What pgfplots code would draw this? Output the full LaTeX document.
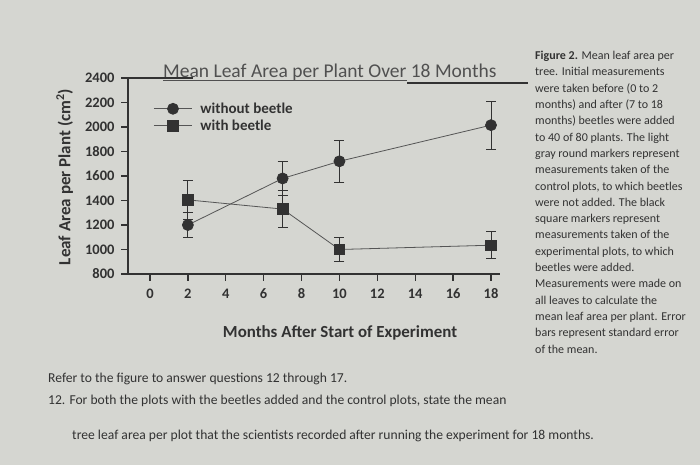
\documentclass[border=0pt]{standalone}
\usepackage{pgfplots}
\pgfplotsset{compat=1.18}
\usepackage{fontspec}
\setmainfont{Carlito}
\definecolor{bg}{RGB}{213,214,209}
\definecolor{ink}{RGB}{50,50,50}
\definecolor{lin}{RGB}{85,85,85}
\definecolor{titlecol}{RGB}{80,80,80}
\begin{document}
\begin{tikzpicture}[x=1pt,y=1pt]
\fill[bg] (0,0) rectangle (700,465);
\begin{axis}[
  at={(128pt,191pt)}, anchor=south west,
  scale only axis, width=372pt, height=196pt,
  xmin=-1.16, xmax=18.475, ymin=800, ymax=2400,
  axis x line=bottom, axis y line=left,
  axis line style={-, line width=1.6pt, ink},
  xtick={0,2,...,18}, ytick={800,1000,...,2400},
  tick align=outside, major tick length=7pt,
  tick style={line width=1.4pt, ink},
  /pgf/number format/assume math mode=true,
  /pgf/number format/1000 sep={},
  ticklabel style={font=\bfseries\fontsize{14.5}{16}\selectfont, text=ink},
  xticklabel style={yshift=-4pt, text height=10pt, text depth=0pt},
  yticklabel style={xshift=-3pt},
  xlabel={Months After Start of Experiment},
  xlabel style={at={(axis description cs:0.57,-0.30)}, anchor=center, font=\bfseries\fontsize{16.9}{19}\selectfont, text=ink},
  ylabel={Leaf Area per Plant (cm\textsuperscript{2})},
  ylabel style={at={(axis description cs:-0.17,0.495)}, anchor=center, font=\bfseries\fontsize{17}{19}\selectfont, text=ink},
  legend image code/.code={\draw[mark repeat=2,mark phase=2,#1] plot coordinates {(0cm,0cm) (0.67cm,0cm) (1.34cm,0cm)}; \path (1.34cm+6pt,0);},
  legend style={at={(0.06,0.895)}, anchor=north west, draw=none, fill=none, font=\bfseries\fontsize{15}{16}\selectfont, text=ink, row sep=1pt},
  legend cell align=left,
  clip=false,
]
\addplot[lin, line width=0.8pt, mark=*, mark size=5.5pt, mark options={fill=ink, draw=ink, solid},
  error bars/.cd, y dir=both, y explicit,
  error bar style={line width=0.9pt, ink},
  error mark options={rotate=90, mark size=5pt, line width=0.9pt, ink}]
  coordinates {(2,1200) +- (0,100) (7,1580) +- (0,140) (10,1720) +- (0,170) (18,2015) +- (0,195)};
\addplot[lin, line width=0.8pt, mark=square*, mark size=5.3pt, mark options={fill=ink, draw=ink, solid},
  error bars/.cd, y dir=both, y explicit,
  error bar style={line width=0.9pt, ink},
  error mark options={rotate=90, mark size=5pt, line width=0.9pt, ink}]
  coordinates {(2,1405) +- (0,160) (7,1330) +- (0,150) (10,1000) +- (0,100) (18,1035) +- (0,110)};
\legend{without beetle, with beetle}
\end{axis}
% title with underline
\node[anchor=base west, font=\fontsize{19.5}{21}\selectfont, text=titlecol, inner sep=0pt] at (163,387) {Mean Leaf Area per Plant Over 18 Months};
\draw[ink, line width=1.4pt] (122,387) -- (193,387);
\draw[titlecol, line width=0.7pt] (163,384.5) -- (407,384.5);
\draw[ink, line width=1.3pt] (407,382) -- (528,382);
% caption
\node[anchor=north west, align=left, inner sep=0pt, font=\fontsize{12}{16.3}\selectfont, text=ink] at (535,414) {%
\textbf{Figure 2.} Mean leaf area per\\
tree. Initial measurements\\
were taken before (0 to 2\\
months) and after (7 to 18\\
months) beetles were added\\
to 40 of 80 plants. The light\\
gray round markers represent\\
measurements taken of the\\
control plots, to which beetles\\
were not added. The black\\
square markers represent\\
measurements taken of the\\
experimental plots, to which\\
beetles were added.\\
Measurements were made on\\
all leaves to calculate the\\
mean leaf area per plant. Error\\
bars represent standard error\\
of the mean.};
% questions
\node[anchor=base west, inner sep=0pt, font=\fontsize{13.6}{15}\selectfont, text=ink] at (48,82) {Refer to the figure to answer questions 12 through 17.};
\node[anchor=base west, inner sep=0pt, font=\fontsize{13.6}{15}\selectfont, text=ink] at (48,60) {12. For both the plots with the beetles added and the control plots, state the mean};
\node[anchor=base west, inner sep=0pt, font=\fontsize{13.6}{15}\selectfont, text=ink] at (72,26) {tree leaf area per plot that the scientists recorded after running the experiment for 18 months.};
\end{tikzpicture}
\end{document}
